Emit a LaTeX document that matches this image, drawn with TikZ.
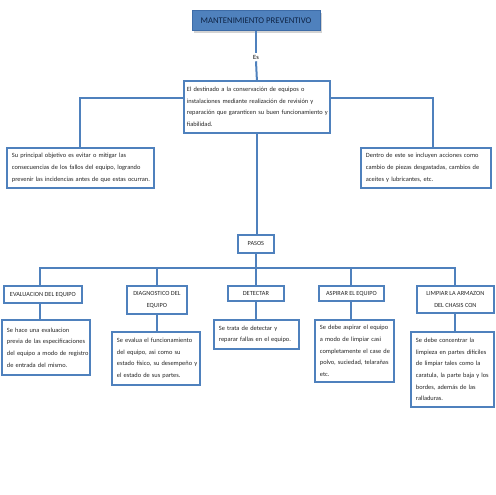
\documentclass[tikz,border=0pt]{standalone}
\usepackage{fontspec}
\setmainfont{Carlito}
\usetikzlibrary{positioning,shadows}

\definecolor{linkblue}{HTML}{4F81BD}
\definecolor{edgeblue}{HTML}{3D6CA8}
\definecolor{titlenavy}{HTML}{0F2445}
\definecolor{textgray}{HTML}{262626}

\tikzset{
  link/.style={draw=linkblue, line width=2pt},
  box/.style={draw=linkblue, line width=1.8pt, fill=white, inner sep=0pt,
    drop shadow={shadow xshift=1pt, shadow yshift=-1pt, opacity=.25},
    text=textgray},
  descbox/.style={box, anchor=north west, align=left,
    font=\fontsize{6.4}{11.7}\selectfont,
    execute at begin node={\hyphenpenalty=10000\rightskip=0pt plus 1fil minus 60pt}},
  stepbox/.style={box, anchor=north west, align=center,
    font=\fontsize{6.3}{11.7}\selectfont},
  titlebox/.style={draw=edgeblue, line width=1pt, fill=linkblue,
    drop shadow={shadow xshift=2pt, shadow yshift=-2pt, opacity=.35},
    font=\fontsize{8.7}{10}\selectfont, text=titlenavy,
    minimum width=128pt, minimum height=20pt},
}

\begin{document}
\begin{tikzpicture}[x=1pt,y=-1pt]
    \useasboundingbox (0,0) rectangle (495,495);
    \node[titlebox] (mant) at (256,21) {MANTENIMIENTO PREVENTIVO};
    \node[font=\fontsize{6.4}{8}\selectfont, inner sep=2pt] (es) at (256,57) {Es};
    \node[descbox, minimum width=146pt, text width=140pt, minimum height=52pt] (dest) at (183,80)
        {El destinado a la conservación de equipos o\\ instalaciones mediante realización de revisión y\\
         reparación que garanticen su buen funcionamiento y\\ fiabilidad.};
    \node[descbox, minimum width=147pt, text width=137pt, minimum height=40pt] (obj) at (6,147)
        {Su principal objetivo es evitar o mitigar las\\ consecuencias de los fallos del equipo, logrando\\
         prevenir las incidencias antes de que estas ocurran.};
    \node[descbox, minimum width=130pt, text width=120pt, minimum height=40pt] (incl) at (360,147)
        {Dentro de este se incluyen acciones como\\ cambio de piezas desgastadas, cambios de\\
         aceites y lubricantes, etc.};
    \node[stepbox, minimum width=36pt, minimum height=18pt] (pasos) at (237,234) {PASOS};
    % pasos
    \node[stepbox, minimum width=78pt, minimum height=17pt] (eval) at (3,285) {EVALUACION DEL EQUIPO};
    \node[stepbox, minimum width=60pt, minimum height=28pt] (diag) at (126,285) {DIAGNOSTICO DEL\\ EQUIPO};
    \node[stepbox, minimum width=56pt, minimum height=15pt] (detec) at (227,285) {DETECTAR};
    \node[stepbox, minimum width=65pt, minimum height=15pt] (asp) at (318,285) {ASPIRAR EL EQUIPO};
    \node[stepbox, minimum width=77pt, minimum height=27pt] (limp) at (416,285) {LIMPIAR LA ARMAZON\\ DEL CHASIS CON};
    % descripciones
    \node[descbox, minimum width=88pt, text width=78pt, minimum height=55pt] (evald) at (1,319)
        {Se hace una evaluacion\\ previa de las especificaciones\\ del equipo a modo de registro\\ de entrada del mismo.};
    \node[descbox, minimum width=88pt, text width=78pt, minimum height=53pt] (diagd) at (111,331)
        {Se evalua el funcionamiento\\ del equipo, asi como su\\ estado físico, su desempeño y\\ el estado de sus partes.};
    \node[descbox, minimum width=85pt, text width=75pt, minimum height=29pt] (detecd) at (213,319)
        {Se trata de detectar y\\ reparar fallas en el equipo.};
    \node[descbox, minimum width=79pt, text width=69pt, minimum height=62pt] (aspd) at (314,319)
        {Se debe aspirar el equipo\\ a modo de limpiar casi\\ completamente el case de\\ polvo, suciedad, telarañas\\ etc.};
    \node[descbox, minimum width=83pt, text width=73pt, minimum height=75pt] (limpd) at (410,331)
        {Se debe concentrar la\\ limpieza en partes difíciles\\ de limpiar tales como la\\ caratula, la parte baja y los\\
         bordes, además de las\\ ralladuras.};

    \draw[link] (mant.south) -- (es.north);
    \draw[link] (es.south) -- (dest.north);
    \draw[link] (dest.west |- 0,98) -| (obj.north);
    \draw[link] (dest.east |- 0,98) -| (incl.north -| 433,0);
    \draw[link] (dest.south) -- (pasos.north -| dest.south);
    \coordinate (bus) at (256,268);
    \draw[link] (pasos.south -| bus) -- (bus);
    \draw[link] (eval.north -| 40,0) |- (bus) -| (limp.north);
    \draw[link] (bus -| diag.north) -- (diag.north);
    \draw[link] (bus) -- (detec.north -| bus);
    \draw[link] (bus -| asp.north) -- (asp.north);
    \draw[link] (eval.south -| 40,0) -- (evald.north -| 40,0);
    \draw[link] (diag.south) -- (diag.south |- diagd.north);
    \draw[link] (detec.south -| bus) -- (detecd.north -| bus);
    \draw[link] (asp.south) -- (asp.south |- aspd.north);
    \draw[link] (limp.south) -- (limp.south |- limpd.north);
\end{tikzpicture}
\end{document}
